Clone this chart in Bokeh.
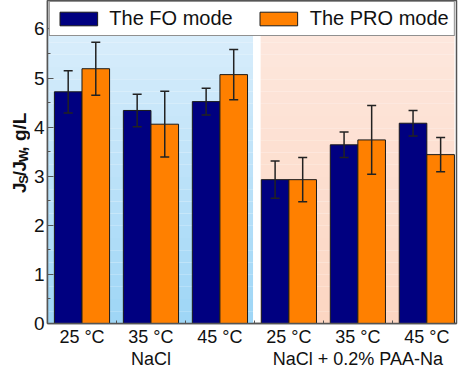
import numpy as np
from bokeh.plotting import figure
from bokeh.layouts import row
from bokeh.models import (ColumnDataSource, Range1d, FixedTicker, Whisker,
                          BoxAnnotation, Legend, LegendItem, TeeHead)
from bokeh.embed import file_html
from bokeh.resources import INLINE
from bokeh.core.properties import value

# ---- data ----
temps = ["25 °C", "35 °C", "45 °C", "25 °C", "35 °C", "45 °C"]
groups = ["NaCl", "NaCl + 0.2% PAA-Na"]
group_of = [0, 0, 0, 1, 1, 1]
fo = [4.72, 4.34, 4.52, 2.93, 3.64, 4.08]
fo_err = [0.43, 0.33, 0.27, 0.38, 0.26, 0.26]
pro = [5.19, 4.06, 5.07, 2.93, 3.74, 3.44]
pro_err = [0.54, 0.67, 0.51, 0.45, 0.70, 0.35]
series = ["The FO mode", "The PRO mode"]
y_ticks = [0, 1, 2, 3, 4, 5, 6]
ylabel_parts = ["J", "S", "/", "J", "W", ", g/L"]
ylabel_is_sub = [False, True, False, False, True, False]

FONT = "Liberation Sans"
NAVY = "#000080"
ORANGE = "#ff8000"
W_TOTAL = 458
H = 371
LW = 30   # y-label strip width
BL = 14   # main plot left border (y tick labels)
BR = 2

pos = np.arange(1, len(temps) + 1)
dodge = 0.2
bw = 0.4

src_fo = ColumnDataSource(dict(x=pos - dodge, top=fo,
                               upper=np.array(fo) + np.array(fo_err),
                               lower=np.array(fo) - np.array(fo_err)))
src_pro = ColumnDataSource(dict(x=pos + dodge, top=pro,
                                upper=np.array(pro) + np.array(pro_err),
                                lower=np.array(pro) - np.array(pro_err)))

p = figure(width=W_TOTAL - LW, height=H, x_range=Range1d(0.5, 6.43), y_range=Range1d(0, 6.58),
           output_backend="svg", toolbar_location=None, title=None,
           min_border_left=BL, min_border_right=BR, min_border_top=0, min_border_bottom=0)
p.xgrid.visible = False
p.ygrid.visible = False
p.outline_line_color = "#555555"
p.outline_line_width = 1.5
p.background_fill_color = "white"
p.border_fill_color = "white"


# ---- background shading (gradient-like strips) ----
def mix(c1, c2, t):
    a = [int(c1[i:i + 2], 16) for i in (1, 3, 5)]
    b = [int(c2[i:i + 2], 16) for i in (1, 3, 5)]
    return "#%02x%02x%02x" % tuple(int(round(a[k] + (b[k] - a[k]) * t)) for k in range(3))


n_strips = 24
shade_top = 5.97
for k in range(n_strips):
    y0 = shade_top * k / n_strips
    y1 = shade_top * (k + 1) / n_strips
    t = k / (n_strips - 1)
    p.add_layout(BoxAnnotation(left=0.5, right=3.48, bottom=y0, top=y1,
                               fill_color=mix("#9fd6f6", "#d8edfb", t), fill_alpha=1,
                               line_alpha=0, level="underlay"))
    p.add_layout(BoxAnnotation(left=3.59, right=6.40, bottom=y0, top=y1,
                               fill_color=mix("#fcd6c2", "#fde7dd", t), fill_alpha=1,
                               line_alpha=0, level="underlay"))

# ---- bars ----
r_fo = p.vbar(x="x", top="top", width=bw, source=src_fo, fill_color=NAVY,
              line_color="#1a1a1a", line_width=1)
r_pro = p.vbar(x="x", top="top", width=bw, source=src_pro, fill_color=ORANGE,
               line_color="#1a1a1a", line_width=1)

for src in (src_fo, src_pro):
    w = Whisker(source=src, base="x", upper="upper", lower="lower", dimension="height",
                line_color="#222222", line_width=1.5, level="annotation",
                upper_head=TeeHead(size=9, line_color="#222222", line_width=1.5),
                lower_head=TeeHead(size=9, line_color="#222222", line_width=1.5))
    p.add_layout(w)

# ---- legend ----
legend = Legend(items=[LegendItem(label=series[0], renderers=[r_fo]),
                       LegendItem(label=series[1], renderers=[r_pro])],
                orientation="horizontal", location="top", margin=1,
                padding=5, spacing=22, label_standoff=8,
                glyph_width=47, glyph_height=17, label_height=17,
                label_text_font=FONT, label_text_font_size="20px", label_text_color="#111111",
                border_line_color="#222222", border_line_width=1,
                background_fill_color="white", background_fill_alpha=1)
p.add_layout(legend)

# ---- axes ----
p.yaxis.ticker = FixedTicker(ticks=y_ticks, minor_ticks=[v + 0.5 for v in y_ticks[:-1]])
p.yaxis.major_tick_in = 6
p.yaxis.major_tick_out = 0
p.yaxis.minor_tick_in = 3
p.yaxis.minor_tick_out = 0
p.yaxis.major_label_standoff = 3
p.yaxis.major_label_text_font_size = "19px"

# tick labels: temperature, with the group name on a second line under the middle tick
labels = {}
for i, (v, t) in enumerate(zip(pos, temps)):
    g = group_of[i]
    members = [j for j in range(len(temps)) if group_of[j] == g]
    labels[int(v)] = t + "\n" + groups[g] if i == members[len(members) // 2] else t
p.xaxis.ticker = FixedTicker(ticks=list(pos), minor_ticks=[v + 0.5 for v in pos[:-1]])
p.xaxis.major_label_overrides = labels
p.xaxis.major_tick_in = 0
p.xaxis.major_tick_out = 0
p.xaxis.minor_tick_in = 3
p.xaxis.minor_tick_out = 0
p.xaxis.major_label_standoff = 3
p.xaxis.major_label_text_font_size = "18px"
p.xaxis.major_label_text_line_height = 1.1

for ax in (p.xaxis[0], p.yaxis[0]):
    ax.axis_line_color = "#555555"
    ax.axis_line_width = 1.5
    ax.major_tick_line_color = "#555555"
    ax.minor_tick_line_color = "#555555"
    ax.major_label_text_font = FONT
    ax.major_label_text_color = "#111111"

# ---- y axis label J_S/J_W, g/L in its own narrow strip (pixel coordinates) ----
lab = figure(width=LW, height=H, x_range=Range1d(0, LW), y_range=Range1d(0, H),
             output_backend="svg", toolbar_location=None, title=None,
             x_axis_location=None, y_axis_location=None,
             min_border_left=0, min_border_right=0, min_border_top=0, min_border_bottom=0)
lab.grid.visible = False
lab.outline_line_color = None
lab.border_fill_color = "white"

em = {"J": 0.556, "S": 0.667, "/": 0.278, "W": 0.944, ",": 0.278, " ": 0.278,
      "g": 0.611, "L": 0.611}
main_fs, sub_fs = 19, 13
xs, ys, sizes = [], [], []
ycur = 150.0
for txt, sub in zip(ylabel_parts, ylabel_is_sub):
    fs = sub_fs if sub else main_fs
    xs.append(23.0 if sub else 19.0)
    ys.append(ycur)
    sizes.append(f"{fs}px")
    ycur += sum(em[c] for c in txt) * fs
lsrc = ColumnDataSource(dict(x=xs, y=ys, text=ylabel_parts, size=sizes))
lab.text(x="x", y="y", text="text", source=lsrc, angle=np.pi / 2,
         text_font=value(FONT), text_font_style="bold", text_font_size="size",
         text_align="left", text_baseline="alphabetic", text_color="#111111")

layout = row(lab, p)
open("out.html", "w").write(file_html(layout, INLINE))
